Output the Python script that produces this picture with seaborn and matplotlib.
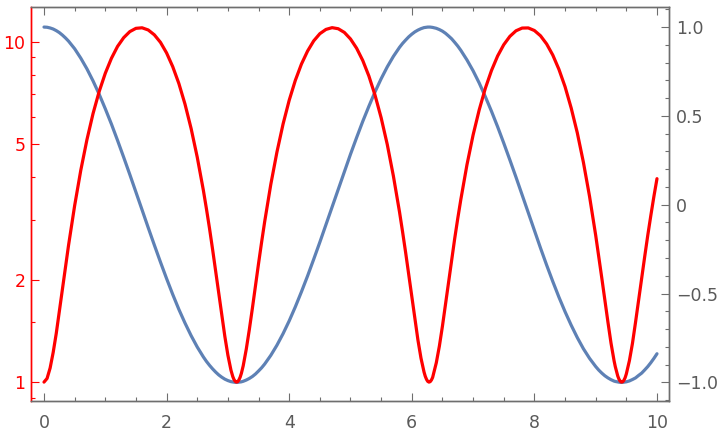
import numpy as np
import pandas as pd
import matplotlib
matplotlib.use("Agg")
import matplotlib.pyplot as plt
import seaborn as sns
from matplotlib.ticker import FixedLocator, NullFormatter, FixedFormatter

x_vals = [0.0, 0.05, 0.1, 0.15, 0.2, 0.25, 0.3, 0.35, 0.4, 0.5, 0.6, 0.7, 0.8, 0.9,
          1.0, 1.1, 1.2, 1.3, 1.4, 1.5, 1.6, 1.7, 1.8, 1.9,
          2.0, 2.1, 2.2, 2.3, 2.4, 2.5, 2.6, 2.65, 2.7, 2.75, 2.8, 2.85, 2.9, 2.95,
          3.0, 3.05, 3.08, 3.1, 3.12, 3.14, 3.16, 3.18, 3.2, 3.22, 3.25, 3.3, 3.35,
          3.4, 3.45, 3.5, 3.55, 3.6, 3.7, 3.8, 3.9,
          4.0, 4.1, 4.2, 4.3, 4.4, 4.5, 4.6, 4.7, 4.8, 4.9,
          5.0, 5.1, 5.2, 5.3, 5.4, 5.5, 5.6, 5.7, 5.8, 5.85, 5.9, 5.95,
          6.0, 6.05, 6.1, 6.15, 6.2, 6.22, 6.24, 6.26, 6.28, 6.3, 6.32, 6.34,
          6.4, 6.45, 6.5, 6.55, 6.6, 6.65, 6.7, 6.75, 6.8, 6.9,
          7.0, 7.1, 7.2, 7.3, 7.4, 7.5, 7.6, 7.7, 7.8, 7.9,
          8.0, 8.1, 8.2, 8.3, 8.4, 8.5, 8.6, 8.7, 8.8, 8.9,
          9.0, 9.05, 9.1, 9.15, 9.2, 9.25, 9.3, 9.32, 9.36, 9.38, 9.4, 9.42, 9.44,
          9.46, 9.48, 9.5, 9.55, 9.6, 9.65, 9.7, 9.75, 9.8, 9.85, 9.9, 9.95,
          10.0]

blue_vals = [1.000, 0.999, 0.995, 0.989, 0.980, 0.969, 0.955, 0.939, 0.921, 0.878, 0.825, 0.765, 0.697, 0.622,
             0.540, 0.454, 0.362, 0.267, 0.170, 0.071, -0.029, -0.129, -0.227, -0.323,
             -0.416, -0.505, -0.589, -0.666, -0.737, -0.801, -0.857, -0.882, -0.904, -0.924, -0.942, -0.958, -0.971, -0.982,
             -0.990, -0.996, -0.998, -0.999, -1.000, -1.000, -1.000, -0.999, -0.998, -0.997, -0.994, -0.987, -0.978,
             -0.967, -0.953, -0.936, -0.918, -0.897, -0.848, -0.791, -0.726,
             -0.654, -0.575, -0.490, -0.401, -0.307, -0.211, -0.112, -0.012, 0.087, 0.186,
             0.284, 0.378, 0.469, 0.554, 0.635, 0.709, 0.776, 0.835, 0.886, 0.908, 0.927, 0.945,
             0.960, 0.973, 0.983, 0.991, 0.997, 0.998, 0.999, 1.000, 1.000, 1.000, 0.999, 0.998,
             0.993, 0.986, 0.977, 0.965, 0.950, 0.934, 0.914, 0.893, 0.869, 0.815,
             0.754, 0.685, 0.608, 0.526, 0.439, 0.347, 0.252, 0.155, 0.055, -0.045,
             -0.146, -0.244, -0.340, -0.432, -0.520, -0.602, -0.678, -0.748, -0.811, -0.865,
             -0.911, -0.931, -0.948, -0.963, -0.975, -0.985, -0.993, -0.995, -0.998, -0.999, -1.000, -1.000, -1.000,
             -0.999, -0.998, -0.997, -0.992, -0.984, -0.975, -0.961, -0.948, -0.930, -0.911, -0.889, -0.865,
             -0.839]

red_vals = [1.000, 1.025, 1.10, 1.223, 1.39, 1.612, 1.87, 2.176, 2.52, 3.30, 4.19, 5.15, 6.15, 7.14,
            8.08, 8.94, 9.69, 10.28, 10.71, 10.95, 10.99, 10.83, 10.48, 9.96,
            9.27, 8.45, 7.54, 6.56, 5.56, 4.58, 3.66, 3.229, 2.83, 2.457, 2.12, 1.827, 1.57, 1.363,
            1.20, 1.084, 1.038, 1.017, 1.005, 1.000, 1.003, 1.015, 1.034, 1.061, 1.117, 1.25, 1.428,
            1.65, 1.921, 2.23, 2.577, 2.96, 3.81, 4.74, 5.73,
            6.73, 7.70, 8.60, 9.39, 10.06, 10.56, 10.87, 11.00, 10.92, 10.65,
            10.19, 9.57, 8.81, 7.93, 6.97, 5.98, 4.99, 4.03, 3.16, 2.762, 2.40, 2.070,
            1.78, 1.534, 1.33, 1.176, 1.07, 1.040, 1.019, 1.005, 1.000, 1.003, 1.014, 1.032,
            1.14, 1.276, 1.46, 1.695, 1.97, 2.286, 2.64, 3.026, 3.44, 4.35,
            5.32, 6.31, 7.30, 8.23, 9.08, 9.80, 10.37, 10.77, 10.97, 10.98,
            10.79, 10.41, 9.85, 9.14, 8.30, 7.38, 6.39, 5.40, 4.42, 3.51,
            2.70, 2.340, 2.02, 1.736, 1.50, 1.302, 1.155, 1.110, 1.042, 1.020, 1.006, 1.000, 1.002,
            1.012, 1.030, 1.057, 1.156, 1.30, 1.499, 1.74, 2.021, 2.34, 2.702, 3.09, 3.514,
            3.96]

x_ticks = [0, 2, 4, 6, 8, 10]
left_ticks = [1, 2, 5, 10]
left_labels = ["1", "2", "5", "10"]
right_ticks = [-1.0, -0.5, 0.0, 0.5, 1.0]
right_labels = ["\u22121.0", "\u22120.5", "0", "0.5", "1.0"]

df = pd.DataFrame({"x": x_vals, "blue": blue_vals, "red": red_vals})

sns.set_theme(style="white")
plt.rcParams['font.family'] = ['DejaVu Sans']

GREY = "#5a5a5a"
SPINE = "#6e6e6e"
RED = "#ff0000"
BLUE = "#5e81b5"

fig = plt.figure(figsize=(7.2, 4.32), dpi=100)
ax = fig.add_axes([31/720, 1-401/432, (669-31)/720, (401-7)/432])

# primary axes: blue (cos) with ticks on the right
sns.lineplot(data=df, x="x", y="blue", ax=ax, color=BLUE, linewidth=2.3)
ax.set_xlim(-0.212, 10.196)
ax.set_ylim(-1.105, 1.113)
ax.yaxis.tick_right()
ax.yaxis.set_major_locator(FixedLocator(right_ticks))
ax.yaxis.set_major_formatter(FixedFormatter(right_labels))
ax.yaxis.set_minor_locator(FixedLocator([v/10 for v in range(-11, 12) if v % 5 != 0]))
ax.xaxis.set_major_locator(FixedLocator(x_ticks))
ax.xaxis.set_minor_locator(FixedLocator([v/2 for v in range(0, 21) if v % 4 != 0]))
ax.set_xlabel("")
ax.set_ylabel("")

# twin axes: red (log scale) with ticks on the left
ax2 = ax.twinx()
sns.lineplot(data=df, x="x", y="red", ax=ax2, color=RED, linewidth=2.3)
ax2.set_yscale("log")
ax2.set_ylim(0.88, 12.65)
ax2.yaxis.tick_left()
ax2.yaxis.set_major_locator(FixedLocator(left_ticks))
ax2.yaxis.set_major_formatter(FixedFormatter(left_labels))
ax2.yaxis.set_minor_locator(FixedLocator([0.9, 1.5, 3, 4, 6, 7, 8, 9]))
ax2.yaxis.set_minor_formatter(NullFormatter())
ax2.set_ylabel("")
ax2.set_xlabel("")

for a in (ax, ax2):
    for s in a.spines.values():
        s.set_color(SPINE)
        s.set_linewidth(1.0)
ax2.spines["left"].set_color(RED)
ax.spines["left"].set_color(RED)

ax.tick_params(axis="x", which="both", direction="in", top=True, bottom=True,
               color=SPINE, labelcolor=GREY, labelsize=12.5, pad=9, width=0.8)
ax.tick_params(axis="x", which="major", length=5.5)
ax.tick_params(axis="x", which="minor", length=3)
ax.tick_params(axis="y", which="both", direction="in", left=False, right=True,
               labelleft=False, labelright=True,
               color=SPINE, labelcolor=GREY, labelsize=12.5, pad=5, width=0.8)
ax.tick_params(axis="y", which="major", length=5.5)
ax.tick_params(axis="y", which="minor", length=3)

ax2.tick_params(axis="y", which="both", direction="in", left=True, right=False,
                labelleft=True, labelright=False,
                color=RED, labelcolor=RED, labelsize=12.5, pad=4, width=0.8)
ax2.tick_params(axis="y", which="major", length=5.5)
ax2.tick_params(axis="y", which="minor", length=3)

fig.savefig("out.png", dpi=100)
